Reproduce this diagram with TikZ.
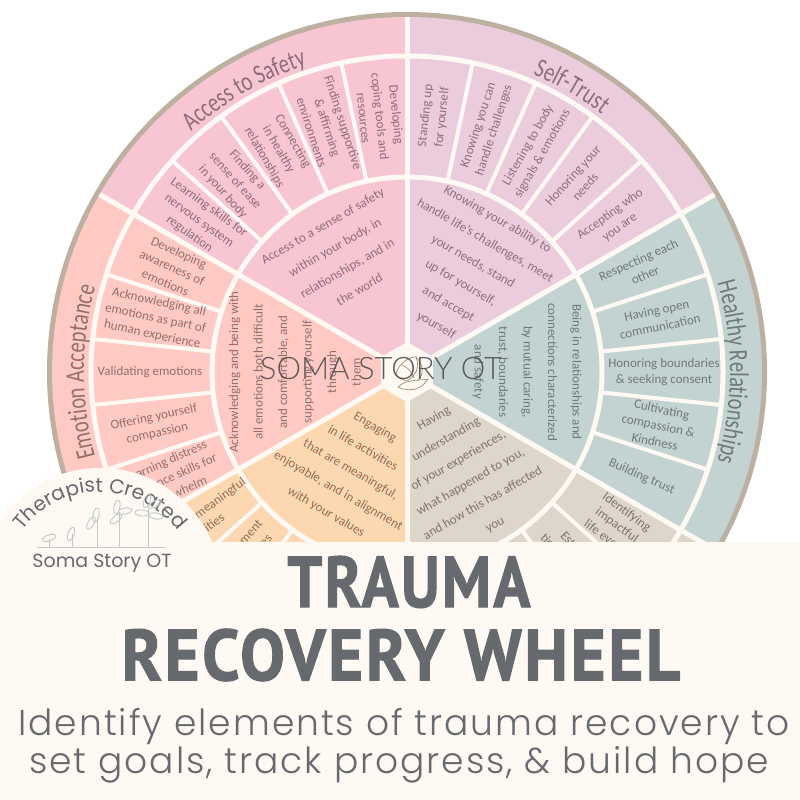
\documentclass[tikz,border=0pt]{standalone}
\usepackage{fontspec}
\usetikzlibrary{decorations.text}
\setmainfont{Carlito}
\newfontfamily\bandfont[FakeStretch=0.76]{Carlito}
\newfontfamily\titlefont[FakeBold=1.6,LetterSpace=4]{PT Sans Bold}
\newfontfamily\subfont[LetterSpace=5.5]{Poppins Light}
\newfontfamily\badgefont{Poppins}
\newfontfamily\markfont{Lato Light}

\definecolor{safetycol}{HTML}{F8C6D2}
\definecolor{trustcol}{HTML}{EBCCDC}
\definecolor{healthcol}{HTML}{C3D3D1}
\definecolor{storycol}{HTML}{DED5CB}
\definecolor{lifecol}{HTML}{FDD7B0}
\definecolor{emotioncol}{HTML}{FFCAC4}
\definecolor{rimcol}{HTML}{BDB0A0}
\definecolor{creamcol}{HTML}{FEF9F3}
\definecolor{safetytxt}{HTML}{8F6C7A}
\definecolor{trusttxt}{HTML}{8E6F80}
\definecolor{healthtxt}{HTML}{6E7A79}
\definecolor{storytxt}{HTML}{80746B}
\definecolor{lifetxt}{HTML}{8F7058}
\definecolor{emotiontxt}{HTML}{94706C}
\definecolor{titlecol}{HTML}{666A6F}
\definecolor{seedcol}{HTML}{BFCBCB}

\tikzset{
    itemtext/.style={inner sep=0pt, align=center, font=\fontsize{13}{16.5}\selectfont},
    coretext/.style={inner sep=0pt, align=center, font=\fontsize{13}{24.5}\selectfont},
    spoke/.style={creamcol, line width=5pt},
    thinspoke/.style={creamcol, line width=4pt},
    seedline/.style={seedcol, line width=0.9pt},
}

% outer band title on an arc, clockwise round the angle #1
\newcommand{\bandtext}[3]{
    \path[decorate, decoration={text along path, text align=center, text color=#2,
        text={|\bandfont\fontsize{27}{27}\selectfont|#3}}]
        (#1+45:323pt) arc[start angle=#1+45, end angle=#1-45, radius=323pt];
}

\begin{document}
\begin{tikzpicture}[x=1pt,y=1pt]

    \useasboundingbox (0,0) rectangle (800,800);
    \fill[white] (0,0) rectangle (800,800);

    \begin{scope}[shift={(407,428)}]

        \fill[rimcol] (0,0) circle[radius=360pt];
        \foreach \ang/\col in {30/trustcol,-30/healthcol,-90/storycol,-150/lifecol,150/emotioncol,90/safetycol}
            \fill[\col] (0,0) -- (\ang:355pt) arc[start angle=\ang, delta angle=60, radius=355pt] -- cycle;

        \draw[spoke] (0,0) circle[radius=316pt];
        \draw[spoke] (0,0) circle[radius=195pt];

        \foreach \ang in {30,90,...,330} {
            \draw[spoke] (0,0) -- (\ang:355pt);
            \foreach \off in {12,24,36,48} \draw[thinspoke] (\ang+\off:195pt) -- (\ang+\off:316pt);
        }

        % cream middle
        \fill[creamcol, rounded corners=3pt] (90:30pt) -- (30:30pt) -- (-30:30pt) -- (-90:30pt) -- (-150:30pt) -- (150:30pt) -- cycle;

        % band titles
        \bandtext{120}{safetytxt}{Access to Safety}
        \bandtext{60}{trusttxt}{Self-Trust}
        \bandtext{0}{healthtxt}{Healthy Relationships}
        \bandtext{180}{emotiontxt}{Emotion Acceptance}

        % left half reads inwards, right half reads outwards
        \foreach \ang/\txt in {
            144/{Learning skills for\\nervous system\\regulation},
            132/{Finding a\\sense of ease\\in your body},
            120/{Connecting\\in healthy\\relationships},
            108/{Finding supportive\\\& affirming\\environments},
            96/{Developing\\coping tools and\\resources}}
            \node[itemtext, text=safetytxt, rotate=\ang-180] (safety\ang) at (\ang:257pt) {\txt};

        \foreach \ang/\txt in {
            84/{Standing up\\for yourself},
            72/{Knowing you can\\handle challenges},
            60/{Listening to body\\signals \& emotions},
            48/{Honoring your\\needs},
            36/{Accepting who\\you are}}
            \node[itemtext, text=trusttxt, rotate=\ang] (trust\ang) at (\ang:257pt) {\txt};

        \foreach \ang/\txt/\nm in {
            24/{Respecting each\\other}/a,
            12/{Having open\\communication}/b,
            0/{Honoring boundaries\\\& seeking consent}/c,
            -12/{Cultivating\\compassion \&\\Kindness}/d,
            -24/{Building trust}/e}
            \node[itemtext, text=healthtxt, rotate=\ang] (health\nm) at (\ang:257pt) {\txt};

        \foreach \ang/\txt/\nm in {
            -36/{Identifying\\impactful\\life events}/a,
            -48/{Establishing a\\timeline of events}/b}
            \node[itemtext, text=storytxt, rotate=\ang] (story\nm) at (\ang:260pt) {\txt};

        \foreach \ang/\txt in {
            216/{Engaging in meaningful\\activities},
            228/{Finding alignment\\with your values}}
            \node[itemtext, text=lifetxt, rotate=\ang-180] (life\ang) at (\ang:257pt) {\txt};

        \foreach \ang/\txt in {
            156/{Developing\\awareness of\\emotions},
            168/{Acknowledging all\\emotions as part of\\human experience},
            180/{Validating emotions},
            192/{Offering yourself\\compassion},
            204/{Learning distress\\tolerance skills for\\overwhelm}}
            \node[itemtext, text=emotiontxt, rotate=\ang-180] (emotion\ang) at (\ang:257pt) {\txt};

        % inner ring
        \node[coretext, text=safetytxt, rotate=30] (coresafety) at (120:132pt) {Access to a sense of safety\\within your body, in\\relationships, and in\\the world};
        \node[coretext, text=trusttxt, rotate=-30] (coretrust) at (59:116pt) {Knowing your ability to\\handle life's challenges, meet\\your needs, stand\\up for yourself,\\and accept\\yourself};
        \node[coretext, text=healthtxt, rotate=-90] (corehealth) at (0:120pt) {Being in relationships and\\connections characterized\\by mutual caring,\\trust, boundaries\\and safety};
        \node[coretext, text=storytxt, rotate=30] (corestory) at (-60:115pt) {Having\\understanding\\of your experiences,\\what happened to you,\\and how this has affected\\you};
        \node[coretext, text=lifetxt, rotate=-30] (corelife) at (240:113pt) {Engaging\\in life activities\\that are meaningful,\\enjoyable, and in alignment\\with your values};
        \node[coretext, text=emotiontxt, rotate=90] (coreemotion) at (180:112pt) {Acknowledging and being with\\all emotions both difficult\\and comfortable, and\\supporting yourself\\through\\them};

        % small line drawing in the hub
        \begin{scope}[shift={(3,-1)}, gray!60!brown, line width=0.6pt]
            \draw (-12,-14) .. controls (-4,-6) and (8,-8) .. (18,-6) .. controls (12,-16) and (0,-20) .. (-12,-14);
            \draw (-14,0) .. controls (-10,10) and (-2,16) .. (6,16) .. controls (10,6) and (6,-4) .. (-4,-8) .. controls (-8,-6) and (-14,-4) .. (-14,0);
            \draw (6,16) .. controls (14,8) and (14,-2) .. (8,-7);
            \draw (-8,8) .. controls (0,4) and (2,0) .. (4,-5);
        \end{scope}

    \end{scope}

    \node[text=black!70, opacity=0.9, inner sep=0pt, font=\markfont\fontsize{31}{31}\selectfont] (watermark) at (381,431) {SOMA STORY OT};

    % cream panel and round badge
    \fill[creamcol] (0,0) rectangle (800,258);
    \fill[creamcol] (100,210) circle[radius=122pt];

    \path[decorate, decoration={text along path, text align=center, text color=titlecol,
        text={|\badgefont\fontsize{20}{20}\selectfont|Therapist Created}}]
        (100,211) ++(170:97pt) arc[start angle=170, end angle=10, radius=97pt];

    \draw[seedline] (37,253) -- (165,253);
    \foreach \x/\ytop in {49/261,72/266,97/282,119/288,148/293} \draw[seedline] (\x,253) -- (\x,\ytop);
    \foreach \x/\y/\rot in {
        49/262/20, 71/266/70, 91/277/60, 96/285/80, 116/281/40, 117/293/80, 125/289/10,
        147/299/70, 155/296/30, 142/287/-5, 156/284/-10}
        \draw[seedline, rotate around={\rot:(\x,\y)}] (\x,\y) ellipse (7 and 3);

    \node[text=titlecol, inner sep=0pt, font=\badgefont\fontsize{19}{19}\selectfont] (badgename) at (102,237) {Soma Story OT};

    % title and subtitle
    \node[text=titlecol, inner sep=0pt, xscale=0.85, font=\titlefont\fontsize{72}{72}\selectfont] (title1) at (409,218) {TRAUMA};
    \node[text=titlecol, inner sep=0pt, xscale=0.93, font=\titlefont\fontsize{72}{72}\selectfont] (title2) at (401,145) {RECOVERY WHEEL};
    \node[text=titlecol, inner sep=0pt, anchor=base, font=\subfont\fontsize{36}{36}\selectfont] (sub1) at (404,64) {Identify elements of trauma recovery to};
    \node[text=titlecol, inner sep=0pt, anchor=base, font=\subfont\fontsize{36}{36}\selectfont] (sub2) at (399,27) {set goals, track progress, \& build hope};

\end{tikzpicture}
\end{document}
